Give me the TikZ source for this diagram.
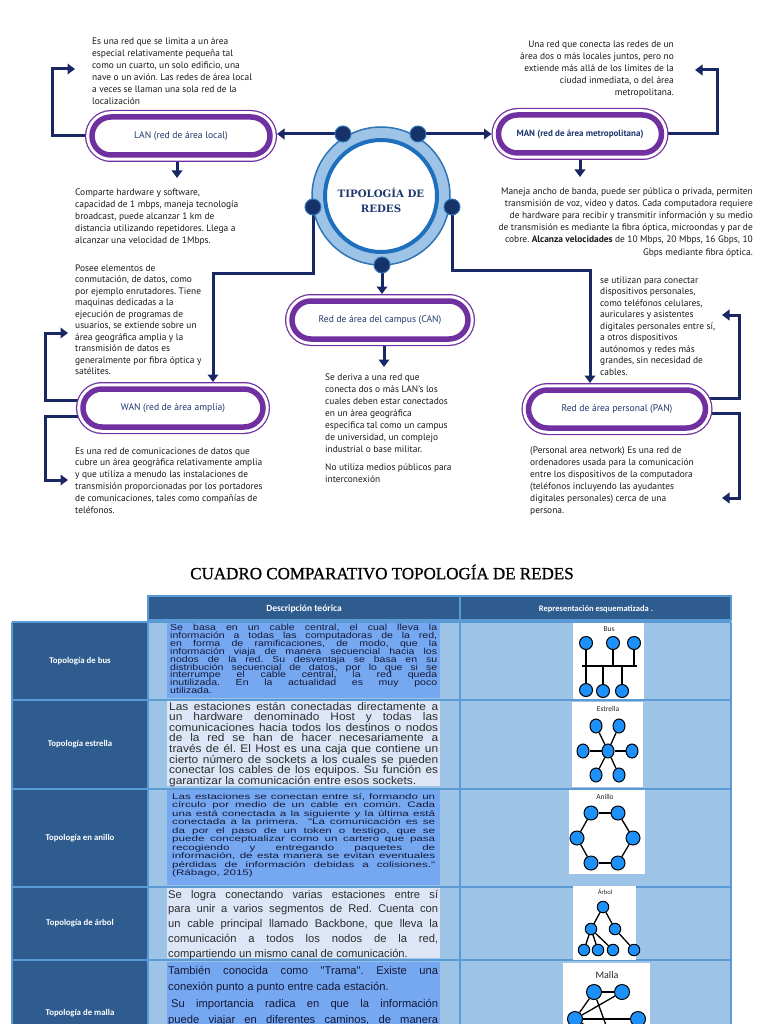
\documentclass[tikz,border=0pt]{standalone}
\usepackage{fontspec}
\setmainfont{PT Sans}
\newfontfamily\titlefont{Liberation Serif}[FakeBold=0.9]
\newfontfamily\hubfont{DejaVu Serif}
\newfontfamily\calfont{Carlito}
\newfontfamily\arialB{Liberation Sans}[FakeStretch=1.2]
\newfontfamily\arialA{Liberation Sans}[FakeStretch=1.45]
\newfontfamily\arialM{Liberation Sans}[FakeStretch=1.08]
\newfontfamily\arialL{Liberation Sans}
\usetikzlibrary{shapes.misc,shapes.geometric,arrows.meta,calc}
\pgfdeclarelayer{bg}
\pgfsetlayers{bg,main}
\frenchspacing
\newcommand\jl[1]{\makebox[\linewidth][s]{#1}\\}
\definecolor{navy}{RGB}{25,40,100}
\definecolor{purp}{RGB}{112,48,160}
\definecolor{pilltxt}{RGB}{31,56,110}
\definecolor{ringfill}{RGB}{157,195,230}
\definecolor{ringout}{RGB}{46,117,182}
\definecolor{ringin}{RGB}{31,111,191}
\definecolor{dotfill}{RGB}{23,50,105}
\definecolor{hdr}{RGB}{46,92,142}
\definecolor{cellb}{RGB}{157,195,230}
\definecolor{gridc}{RGB}{91,155,213}
\definecolor{hiblue}{RGB}{118,168,242}
\definecolor{hilight}{RGB}{220,230,246}
\definecolor{tnode}{RGB}{30,144,250}
\definecolor{txt}{RGB}{25,25,30}
\definecolor{tbltxt}{RGB}{20,25,55}
\definecolor{tblgray}{RGB}{45,45,45}
\begin{document}
\begin{tikzpicture}[x=1pt,y=-1pt,
  arr/.style={draw=navy, line width=3pt, -{Triangle[length=7.5pt,width=10.5pt]}},
  pill/.style={rounded rectangle, minimum height=38pt, inner sep=0pt, outer sep=0pt,
    fill=white, draw=purp, line width=5.5pt,
    preaction={draw=purp, line width=14pt},
    preaction={draw=white, line width=11.5pt},
    text=pilltxt, font=\fontsize{9.6}{11}\selectfont},
  desc/.style={inner sep=0pt, text=txt, font=\fontsize{9.4}{12}\selectfont},
  dot/.style={circle, minimum size=16pt, inner sep=0pt, fill=dotfill, draw=ringout, line width=1pt},
  tn/.style={circle, minimum size=13pt, inner sep=0pt, fill=tnode, draw=black, line width=1pt},
  te/.style={draw=black, line width=1.3pt},
  rowlbl/.style={text=white, font=\calfont\bfseries\fontsize{8.8}{10}\selectfont},
  imglbl/.style={inner sep=0pt, text=black!85, font=\calfont\fontsize{7.5}{9}\selectfont},
  tbl/.style={inner sep=0pt, anchor=base west}
]
\useasboundingbox (0,0) rectangle (768,1024);
\begin{pgfonlayer}{bg}
\fill[white] (0,0) rectangle (768,1024);
\end{pgfonlayer}

% ---------- hub ----------
\node[circle, minimum size=138pt, inner sep=0pt, fill=ringfill, draw=ringout, line width=1.5pt] (ring) at (381,196) {};
\node[circle, minimum size=112pt, inner sep=0pt, fill=white, draw=ringin, line width=4pt] (hub) at (381,196) {};
\node[font=\hubfont\bfseries\fontsize{10.2}{15}\selectfont, text=pilltxt, align=center, inner sep=0pt] (hubt) at (381,200) {TIPOLOGÍA DE\\REDES};
\node[dot] (d1) at (343,134) {};
\node[dot] (d2) at (418,134) {};
\node[dot] (d3) at (313,207) {};
\node[dot] (d4) at (452,207) {};
\node[dot] (d5) at (382,265) {};

% ---------- pills ----------
\node[pill, minimum width=178pt] (lan) at (181,136) {LAN (red de área local)};
\node[pill, minimum width=163pt, font=\fontsize{9}{11}\selectfont\bfseries] (man) at (580,134) {MAN (red de área metropolitana)};
\node[pill, minimum width=176pt] (can) at (380,320) {Red de área del campus (CAN)};
\node[pill, minimum width=180pt] (wan) at (173,408) {WAN (red de área amplia)};
\node[pill, minimum width=177pt] (pan) at (617,409) {Red de área personal (PAN)};

% free ends
\coordinate (lanT) at (75,69);
\coordinate (lanD) at (177,178);
\coordinate (manT) at (695,70);
\coordinate (manD) at (580,177);
\coordinate (canD) at (384,367);
\coordinate (wanT) at (68,333);
\coordinate (wanB) at (68,480);
\coordinate (panT) at (722,315);
\coordinate (panB) at (722,498);

\begin{pgfonlayer}{bg}
\draw[arr, shorten >=7pt] (d1.center) -- (d1.center -| lan.east);
\draw[arr, shorten >=7pt] (d2.center) -- (d2.center -| man.west);
\draw[arr, shorten >=7pt] (d3.center) -- ++(0,66) -| ([xshift=40pt]wan.north);
\draw[arr, shorten >=7pt] (d4.center) -- ++(0,63) -| ([xshift=-27pt]pan.north);
\draw[arr, shorten >=7pt] (d5.center) -- (d5.center |- can.north);
\draw[arr] (lan.west) -- ++(-40,0) |- (lanT);
\draw[arr] (lanD |- lan.south) -- (lanD);
\draw[arr] (man.east) -- ++(56,0) |- (manT);
\draw[arr] (manD |- man.south) -- (manD);
\draw[arr] (canD |- can.south) -- (canD);
\draw[arr] ([yshift=8pt]wan.west) -- ++(-38,0) |- (wanT);
\draw[arr] ([yshift=-8pt]wan.west) -- ++(-38,0) |- (wanB);
\draw[arr] ([yshift=11pt]pan.east) -- ++(34,0) |- (panT);
\draw[arr] ([yshift=-4pt]pan.east) -- ++(34,0) |- (panB);
\end{pgfonlayer}

% ---------- description texts ----------
\node[desc, anchor=base west] (lanA) at (92,45) {\parbox[t]{200pt}{\raggedright
Es una red que se limita a un área\\especial relativamente pequeña tal\\como un cuarto, un solo edificio, una\\nave o un avión. Las redes de área local\\a veces se llaman una sola red de la\\localización}};
\node[desc, anchor=base west] (lanB) at (75,196) {\parbox[t]{200pt}{\raggedright
Comparte hardware y software,\\capacidad de 1 mbps, maneja tecnología\\broadcast, puede alcanzar 1 km de\\distancia utilizando repetidores. Llega a\\alcanzar una velocidad de 1Mbps.}};
\node[desc, anchor=base east] (manA) at (674,48) {\parbox[t]{200pt}{\raggedleft
Una red que conecta las redes de un\\área dos o más locales juntos, pero no\\extiende más allá de los límites de la\\ciudad inmediata, o del área\\metropolitana.}};
\node[desc, anchor=base east] (manB) at (753,195) {\parbox[t]{300pt}{\raggedleft
Maneja ancho de banda, puede ser pública o privada, permiten\\transmisión de voz, video y datos. Cada computadora requiere\\de hardware para recibir y transmitir información y su medio\\de transmisión es mediante la fibra óptica, microondas y par de\\cobre. \textbf{Alcanza velocidades} de 10 Mbps, 20 Mbps, 16 Gbps, 10\\[1pt]Gbps mediante fibra óptica.}};
\node[desc, anchor=base west, font=\fontsize{9.4}{11.55}\selectfont] (wanA) at (75,271) {\parbox[t]{200pt}{\raggedright
Posee elementos de\\conmutación, de datos, como\\por ejemplo enrutadores. Tiene\\maquinas dedicadas a la\\ejecución de programas de\\usuarios, se extiende sobre un\\área geográfica amplia y la\\transmisión de datos es\\generalmente por fibra óptica y\\satélites.}};
\node[desc, anchor=base west, font=\fontsize{9.4}{11.8}\selectfont] (wanB) at (75,454) {\parbox[t]{240pt}{\raggedright
Es una red de comunicaciones de datos que\\cubre un área geográfica relativamente amplia\\y que utiliza a menudo las instalaciones de\\transmisión proporcionadas por los portadores\\de comunicaciones, tales como compañías de\\teléfonos.}};
\node[desc, anchor=base west] (canA) at (325,380) {\parbox[t]{200pt}{\raggedright
Se deriva a una red que\\conecta dos o más LAN’s los\\cuales deben estar conectados\\en un área geográfica\\especifica tal como un campus\\de universidad, un complejo\\industrial o base militar.\\[6pt]No utiliza medios públicos para\\interconexión}};
\node[desc, anchor=base west, font=\fontsize{9.4}{11.5}\selectfont] (panA) at (600,283) {\parbox[t]{160pt}{\raggedright
se utilizan para conectar\\dispositivos personales,\\como teléfonos celulares,\\auriculares y asistentes\\digitales personales entre sí,\\a otros dispositivos\\autónomos y redes más\\grandes, sin necesidad de\\cables.}};
\node[desc, anchor=base west] (panB2) at (530,453) {\parbox[t]{220pt}{\raggedright
(Personal area network) Es una red de\\ordenadores usada para la comunicación\\entre los dispositivos de la computadora\\(teléfonos incluyendo las ayudantes\\digitales personales) cerca de una\\persona.}};

% ---------- table ----------
\node[font=\titlefont\fontsize{17}{20}\selectfont, text=black, inner sep=0pt] (title) at (382,572) {CUADRO COMPARATIVO TOPOLOGÍA DE REDES};

\fill[hdr] (148,596) rectangle (731,620);
\draw[gridc, line width=1.2pt] (148,596) rectangle (731,620) (460,596) -- (460,620);
\node[font=\calfont\bfseries\fontsize{9.5}{11}\selectfont, text=white] (h1) at (304,609) {Descripción teórica};
\node[font=\calfont\bfseries\fontsize{8.5}{10}\selectfont, text=white] (h2) at (596,609) {Representación esquematizada .};

\fill[hdr] (12,622) rectangle (148,1030);
\fill[cellb] (148,622) rectangle (731,1030);
\fill[hiblue] (167,623) rectangle (440,698);
\fill[hilight] (167,701) rectangle (440,786);
\fill[hiblue] (167,790) rectangle (440,885);
\fill[hilight] (167,888) rectangle (440,958);
\fill[hiblue] (167,962) rectangle (440,1030);
\foreach \yy in {700,789,887,960} \draw[gridc, line width=1.5pt] (12,\yy) -- (731,\yy);
\draw[gridc, line width=1.5pt] (12,622) -- (731,622) (12,622) -- (12,1030) (148,622) -- (148,1030) (460,622) -- (460,1030) (731,622) -- (731,1030);

\node[rowlbl] (r1) at (80,661) {Topología de bus};
\node[rowlbl] (r2) at (80,744) {Topología estrella};
\node[rowlbl] (r3) at (80,838) {Topología en anillo};
\node[rowlbl] (r4) at (80,923) {Topología de árbol};
\node[rowlbl] (r5) at (80,1013) {Topología de malla};

\node[tbl, text=tbltxt] (tbus) at (170,630.5) {\parbox[t]{267pt}{\arialB\fontsize{8.8}{7.9}\selectfont\lineskiplimit=-100pt
\jl{Se basa en un cable central, el cual lleva la}
\jl{información a todas las computadoras de la red,}
\jl{en forma de ramificaciones, de modo, que la}
\jl{información viaja de manera secuencial hacia los}
\jl{nodos de la red. Su desventaja se basa en su}
\jl{distribución secuencial de datos, por lo que si se}
\jl{interrumpe el cable central, la red queda}
\jl{inutilizada. En la actualidad es muy poco}
utilizada.}};
\node[tbl, text=tblgray] (test) at (169,710) {\parbox[t]{269pt}{\arialM\fontsize{11}{10.6}\selectfont\lineskiplimit=-100pt
\jl{Las estaciones están conectadas directamente a}
\jl{un hardware denominado Host y todas las}
\jl{comunicaciones hacia todos los destinos o nodos}
\jl{de la red se han de hacer necesariamente a}
\jl{través de él. El Host es una caja que contiene un}
\jl{cierto número de sockets a los cuales se pueden}
\jl{conectar los cables de los equipos. Su función es}
garantizar la comunicación entre esos sockets.}};
\node[tbl, text=tbltxt] (tani) at (172,799.5) {\parbox[t]{263pt}{\arialA\fontsize{8}{8.45}\selectfont\lineskiplimit=-100pt
\jl{Las estaciones se conectan entre sí, formando un}
\jl{círculo por medio de un cable en común. Cada}
\jl{una está conectada a la siguiente y la última está}
\jl{conectada a la primera.\ \ "La comunicación es se}
\jl{da por el paso de un token o testigo, que se}
\jl{puede conceptualizar como un cartero que pasa}
\jl{recogiendo y entregando paquetes de}
\jl{información, de esta manera se evitan eventuales}
\jl{pérdidas de información debidas a colisiones."}
(Rábago, 2015)}};
\node[tbl, text=tblgray] (tarb) at (168,898) {\parbox[t]{270pt}{\arialL\fontsize{11.2}{14.9}\selectfont\lineskiplimit=-100pt
\jl{Se logra conectando varias estaciones entre sí}
\jl{para unir a varios segmentos de Red. Cuenta con}
\jl{un cable principal llamado Backbone, que lleva la}
\jl{comunicación a todos los nodos de la red,}
compartiendo un mismo canal de comunicación.}};
\node[tbl, text=tbltxt] (tmal) at (168,974) {\parbox[t]{270pt}{\arialL\fontsize{11.2}{16.5}\selectfont\lineskiplimit=-100pt
\jl{También conocida como "Trama". Existe una}
conexión punto a punto entre cada estación.\\
\jl{\hspace*{3pt}Su importancia radica en que la información}
\jl{puede viajar en diferentes caminos, de manera}}};

% ---------- schematic images ----------
\fill[white] (573,623) rectangle (644,699);
\fill[white] (572,702) rectangle (643,787);
\fill[white] (569,790) rectangle (645,874);
\fill[white] (573,886) rectangle (636,960);
\fill[white] (563,963) rectangle (650,1030);

% bus
\node[imglbl] (lb) at (609,629) {Bus};
\coordinate (busL) at (582,666);
\coordinate (busR) at (637,666);
\node[tn] (b1) at (586,643) {};
\node[tn] (b2) at (613,643) {};
\node[tn] (b3) at (634,643) {};
\node[tn] (b4) at (586,690) {};
\node[tn] (b5) at (603,691) {};
\node[tn] (b6) at (622,691) {};
\draw[te] (busL) -- (busR);
\draw[te] (b1) -- (b4);
\draw[te] (b2) -- (b2 |- busR);
\draw[te] (b3) -- (b3 |- busR);
\draw[te] (b5) -- (b5 |- busR);
\draw[te] (b6) -- (b6 |- busR);

% estrella
\node[imglbl] (ls) at (608,709) {Estrella};
\tikzset{en/.style={ellipse, minimum width=12pt, minimum height=14pt, inner sep=0pt, fill=tnode, draw=black, line width=1pt}}
\node[en] (s0) at (608,751) {};
\node[en] (s1) at (596,726) {};
\node[en] (s2) at (619,726) {};
\node[en] (s3) at (583,751) {};
\node[en] (s4) at (632,751) {};
\node[en] (s5) at (596,775) {};
\node[en] (s6) at (619,775) {};
\foreach \n in {s1,s2,s3,s4,s5,s6} \draw[te] (s0) -- (\n);

% anillo
\node[imglbl] (la) at (605,797) {Anillo};
\tikzset{an/.style={tn, minimum size=14pt}}
\node[an] (a1) at (591,813) {};
\node[an] (a2) at (618,813) {};
\node[an] (a3) at (633,838) {};
\node[an] (a4) at (618,863) {};
\node[an] (a5) at (591,863) {};
\node[an] (a6) at (577,838) {};
\draw[te] (a1) -- (a2); \draw[te] (a2) -- (a3); \draw[te] (a3) -- (a4);
\draw[te] (a4) -- (a5); \draw[te] (a5) -- (a6); \draw[te] (a6) -- (a1);

% arbol
\node[imglbl, font=\calfont\fontsize{6.5}{8}\selectfont] (lr) at (605,892) {Árbol};
\tikzset{rn/.style={tn, minimum size=11.5pt}}
\node[rn] (t0) at (603,907) {};
\node[rn] (t1) at (591,929) {};
\node[rn] (t2) at (615,929) {};
\node[rn] (t3) at (584,950) {};
\node[rn] (t4) at (598,950) {};
\node[rn] (t5) at (613,950) {};
\node[rn] (t6) at (634,950) {};
\draw[te] (t0) -- (t1); \draw[te] (t0) -- (t2);
\draw[te] (t1) -- (t3); \draw[te] (t1) -- (t4); \draw[te] (t1) -- (t5);
\draw[te] (t2) -- (t6);

% malla
\node[imglbl, font=\calfont\fontsize{10}{12}\selectfont] (lm) at (607,975) {Malla};
\tikzset{mn/.style={tn, minimum size=15pt}}
\coordinate (m5) at (612,1042);
\node[mn] (m1) at (594,992) {};
\node[mn] (m2) at (622,992) {};
\node[mn] (m3) at (575,1019) {};
\node[mn] (m4) at (638,1019) {};
\draw[te] (m1) -- (m2); \draw[te] (m1) -- (m3); \draw[te] (m2) -- (m3);
\draw[te] (m1) -- (m5); \draw[te] (m3) -- (m4); \draw[te] (m3) -- (m5);
\end{tikzpicture}
\end{document}
